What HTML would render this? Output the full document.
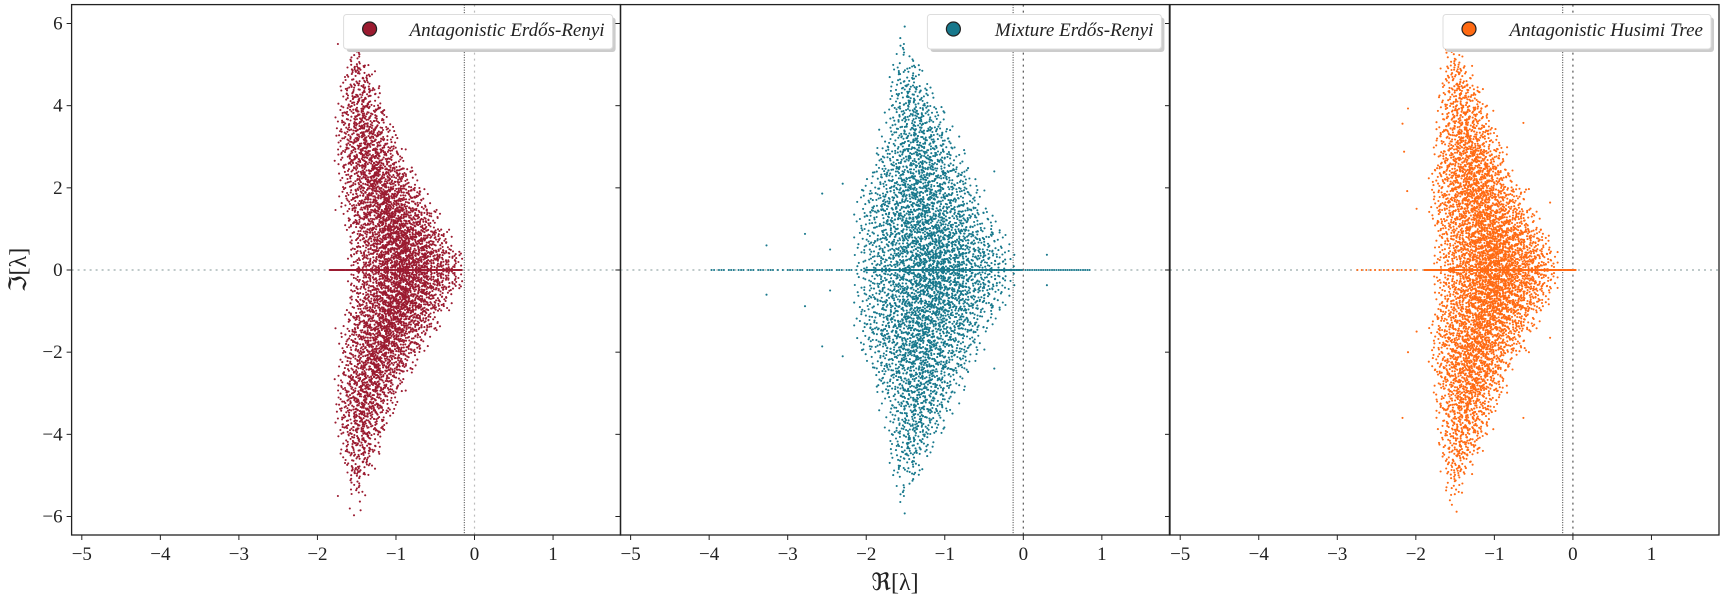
<!DOCTYPE html>
<html><head><meta charset="utf-8"><style>
body{margin:0;background:#fff;}
svg{display:block;font-family:"Liberation Serif",serif;}
</style></head><body>
<svg id="fig" width="1724" height="597" viewBox="0 0 1724 597" xmlns="http://www.w3.org/2000/svg">
<g id="root"></g>
</svg>
<script>
// ---- data ----
const panelNames = ["Antagonistic Erdős-Renyi", "Mixture Erdős-Renyi", "Antagonistic Husimi Tree"];
const panelColors = ["#9b1b30", "#17788c", "#ff6a13"];
const xTicks = [-5, -4, -3, -2, -1, 0, 1];
const yTicks = [-6, -4, -2, 0, 2, 4, 6];
const xTickLabels = ["−5", "−4", "−3", "−2", "−1", "0", "1"];
const yTickLabels = ["−6", "−4", "−2", "0", "2", "4", "6"];
const bandLow = [0, 0.5, 1, 1.5, 2, 2.5, 3, 3.5, 4, 4.5, 5, 5.5];
const redXmin = [-1.65,-1.65,-1.7,-1.75,-1.75,-1.8,-1.8,-1.8,-1.75,-1.7,-1.65,-1.6];
const redXmax = [-0.1,-0.25,-0.4,-0.55,-0.7,-0.85,-0.95,-1.05,-1.15,-1.25,-1.35,-1.45];
const redCount = [600,530,450,380,310,250,200,145,100,55,18,3];
const tealXmin = [-2.2,-2.2,-2.2,-2.15,-2.05,-1.95,-1.85,-1.8,-1.75,-1.75,-1.7,-1.6];
const tealXmax = [-0.05,-0.15,-0.3,-0.45,-0.55,-0.7,-0.8,-0.95,-1.1,-1.2,-1.35,-1.45];
const tealCount = [500,460,400,340,275,210,155,110,75,38,10,2];
const orangeXmin = [-1.8,-1.8,-1.85,-1.85,-1.85,-1.8,-1.8,-1.75,-1.75,-1.7,-1.65,-1.62];
const orangeXmax = [-0.15,-0.25,-0.4,-0.55,-0.7,-0.8,-0.9,-1.0,-1.1,-1.25,-1.35,-1.45];
const orangeCount = [610,550,460,390,325,260,200,145,100,55,18,3];
const redRealMin = [-1.85], redRealMax = [-0.15], redRealCount = [240];
const tealRealMin = [-4.0, -2.0, 0.0], tealRealMax = [-2.0, 0.0, 0.9], tealRealCount = [45, 190, 30];
const orangeRealMin = [-2.8, -1.9], orangeRealMax = [-1.9, 0.05], orangeRealCount = [14, 240];
const redOutX = [-1.74,-1.74,-1.45,-1.77,-1.77];
const redOutY = [5.5,-5.5,-5.85,1.46,-1.42];
const tealOutX = [-3.27,-3.27,-2.78,-2.78,-2.56,-2.56,-2.3,-2.3,-2.46,-2.46,0.3,0.3,-0.37,-0.37,-1.52,-1.52];
const tealOutY = [0.6,-0.6,0.88,-0.88,1.86,-1.86,2.1,-2.1,0.5,-0.5,0.37,-0.37,2.4,-2.4,5.5,-5.5];
const orangeOutX = [-2.1,-2.17,-2.15,-2.11,-1.99,-0.63,-0.56,-0.29,-2.1,-2.17,-1.99,-0.63,-0.56,-0.29];
const orangeOutY = [3.93,3.56,2.88,1.92,1.49,3.58,1.97,1.64,-2.0,-3.6,-1.5,-3.6,-2.0,-1.65];

// ---- geometry ----
const NS = "http://www.w3.org/2000/svg";
const panelLeft = [71.6, 620.4, 1170];
const panelW = 549, plotTop = 4.6, plotBottom = 535;
const xMin = -5.13, xMax = 1.86, yMin = -6.45, yMax = 6.46;
const root = document.getElementById("root");
function mk(tag, attrs, parent){ const e=document.createElementNS(NS,tag); for(const k in attrs) e.setAttribute(k,attrs[k]); (parent||root).appendChild(e); return e; }
function halton(i,b){ let f=1,r=0; while(i>0){ f/=b; r+=f*(i%b); i=Math.floor(i/b);} return r; }

const bandsX0 = [redXmin, tealXmin, orangeXmin], bandsX1 = [redXmax, tealXmax, orangeXmax], bandsN = [redCount, tealCount, orangeCount];
const realMins = [redRealMin, tealRealMin, orangeRealMin], realMaxs = [redRealMax, tealRealMax, orangeRealMax], realCounts = [redRealCount, tealRealCount, orangeRealCount];
const outXs = [redOutX, tealOutX, orangeOutX], outYs = [redOutY, tealOutY, orangeOutY];

for (let p=0; p<3; p++){
  const L = panelLeft[p];
  const sx = v => L + (v - xMin) / (xMax - xMin) * panelW;
  const sy = v => plotTop + (yMax - v) / (yMax - yMin) * (plotBottom - plotTop);
  const g = mk("g", {});
  
  
  const hz = mk("line", {x1:L, x2:L+panelW, y1:sy(0), y2:sy(0), stroke:"#9aa", "stroke-width":1.2, "stroke-dasharray":"2,4"}, g);
  
  
  const v0 = mk("line", {x1:sx(0), x2:sx(0), y1:plotTop, y2:plotBottom, stroke: p==0?"#bbb":"#555", "stroke-width":1.2, "stroke-dasharray":"2,4"}, g);
  
  
  const v1 = mk("line", {x1:sx(-0.13), x2:sx(-0.13), y1:plotTop, y2:plotBottom, stroke:"#333", "stroke-width":1, "stroke-dasharray":"1,1.5"}, g);
  
  
  const pts = mk("g", {fill: panelColors[p]}, g);
  
  
  let idx = 1 + p*977;
  const dot = (x,y)=>{ mk("circle",{cx:sx(x).toFixed(1), cy:sy(y).toFixed(1), r:1.05}, pts); };
  for (let b=0; b<bandLow.length; b++){
    const n = bandsN[p][b], a=bandsX0[p][b], c=bandsX1[p][b];
    for (let k=0; k<n; k++, idx++){
      const u=halton(idx,2), v=halton(idx,3), w=halton(idx,5);
      const x = a + (c-a)*(u+w)/2;
      const yy = bandLow[b] + v*0.5;
      dot(x, yy);
      dot(x, -yy);
    }
  }
  for (let s=0; s<realMins[p].length; s++){
    const n=realCounts[p][s];
    for (let k=0;k<n;k++){ const x = realMins[p][s] + (realMaxs[p][s]-realMins[p][s])*halton(k+1,2); dot(x,0); }
  }
  for (let k=0;k<outXs[p].length;k++) dot(outXs[p][k], outYs[p][k]);
  const fr = mk("rect", {x:L, y:plotTop, width:panelW, height:plotBottom-plotTop, fill:"none", stroke:"#222", "stroke-width":1.3}, g);
  
  
  for (let t=0;t<xTicks.length;t++){
    const X=sx(xTicks[t]);
    mk("line",{x1:X,x2:X,y1:plotBottom,y2:plotBottom+5,stroke:"#222","stroke-width":1},g);
    const tx = mk("text",{x:X,y:plotBottom+25,"text-anchor":"middle","font-size":19,fill:"#222"},g);
    tx.textContent = xTickLabels[t];
    
    
  }
  for (let t=0;t<yTicks.length;t++){
    const Y=sy(yTicks[t]);
    mk("line",{x1:L-5,x2:L,y1:Y,y2:Y,stroke:"#222","stroke-width":1},g);
    if (p==0){
      const ty = mk("text",{x:L-9,y:Y+6,"text-anchor":"end","font-size":19,fill:"#222"},g);
      ty.textContent = yTickLabels[t];
      
      
    }
  }
  const lw = [269, 234, 268][p];
  const lx = L + panelW - 8 - lw;
  const lg = mk("g", {}, g);
  
  
  mk("rect",{x:lx+3,y:17.5,width:lw,height:34.5,rx:3,fill:"#ccc"},lg);
  mk("rect",{x:lx,y:14.5,width:lw,height:34.5,rx:3,fill:"#fff",stroke:"#ddd","stroke-width":1},lg);
  const mkr = mk("circle",{cx:lx+26,cy:29,r:7,fill:panelColors[p],stroke:"#222","stroke-width":1.2},lg);
  
  
  const lt = mk("text",{x:lx+lw-8,y:36,"text-anchor":"end","font-size":19,"font-style":"italic",fill:"#222"},lg);
  lt.textContent = panelNames[p];
  
  
}
const xl = mk("text",{x:895,y:590,"text-anchor":"middle","font-size":24,fill:"#222"});
xl.textContent = "ℜ[λ]";


const yl = mk("text",{x:0,y:0,"text-anchor":"middle","font-size":24,fill:"#222",transform:"translate(26,270) rotate(-90)"});
yl.textContent = "ℑ[λ]";


</script>
</body></html>
